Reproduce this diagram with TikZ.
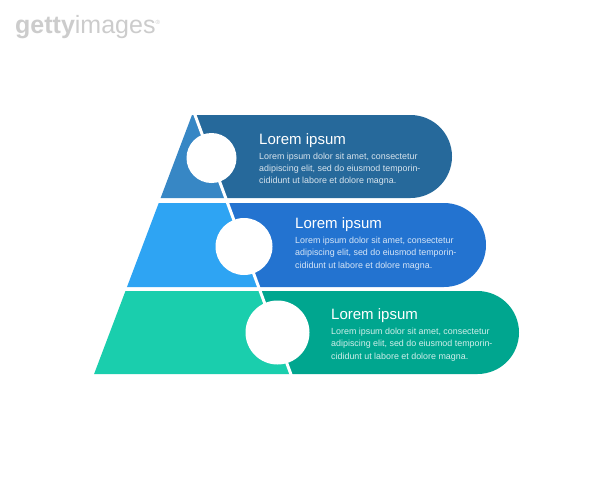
\documentclass[tikz,border=0pt]{standalone}
\usepackage{fontspec}
\setmainfont{Liberation Sans}
\definecolor{tonelight}{HTML}{3787C5}
\definecolor{onedark}{HTML}{26699B}
\definecolor{twolight}{HTML}{2EA4F3}
\definecolor{twodark}{HTML}{2373D0}
\definecolor{threelight}{HTML}{1ACEAD}
\definecolor{threedark}{HTML}{00A68F}
\tikzset{
  titletext/.style={anchor=base west, inner sep=0pt, text=white, font=\fontsize{15}{18}\selectfont},
  bodytext/.style={anchor=north west, inner sep=0pt, align=left, text=white!82!#1, font=\fontsize{8.9}{12.3}\selectfont},
  disc/.style={fill=white},
}
\begin{document}
\begin{tikzpicture}[x=1pt,y=-1pt,
  declare function={xl(\t)=192-0.378*(\t-115); xd(\t)=195+0.37*(\t-115);}]
\useasboundingbox (0,0) rectangle (612,490);
\fill[white] (0,0) rectangle (612,490);
% tier 1
\fill[tonelight] ({xl(115)},115) -- ({xd(115)},115) -- ({xd(198)},198) -- ({xl(198)},198) -- cycle;
\fill[onedark] ({xd(115)},115) -- (410.5,115) arc[start angle=-90,end angle=90,radius=41.5] -- ({xd(198)},198) -- cycle;
% tier 2
\fill[twolight] ({xl(203)},203) -- ({xd(203)},203) -- ({xd(287)},287) -- ({xl(287)},287) -- cycle;
\fill[twodark] ({xd(203)},203) -- (444,203) arc[start angle=-90,end angle=90,radius=42] -- ({xd(287)},287) -- cycle;
% tier 3
\fill[threelight] ({xl(291)},291) -- ({xd(291)},291) -- ({xd(374)},374) -- ({xl(374)},374) -- cycle;
\fill[threedark] ({xd(291)},291) -- (477.5,291) arc[start angle=-90,end angle=90,radius=41.5] -- ({xd(374)},374) -- cycle;
% divider
\draw[white, line width=3pt] ({xd(110)},110) -- ({xd(378)},378);
% discs
\fill[disc] (211.5,158) circle[radius=25];
\fill[disc] (244,246.5) circle[radius=28.5];
\fill[disc] (277.5,332.5) circle[radius=32];
% texts
\node[titletext] (h1) at (259,144) {Lorem ipsum};
\node[bodytext=onedark] (b1) at (259,152.5) {Lorem ipsum dolor sit amet, consectetur\\adipiscing elit, sed do eiusmod temporin-\\cididunt ut labore et dolore magna.};
\node[titletext] (h2) at (295,228.5) {Lorem ipsum};
\node[bodytext=twodark] (b2) at (295,237) {Lorem ipsum dolor sit amet, consectetur\\adipiscing elit, sed do eiusmod temporin-\\cididunt ut labore et dolore magna.};
\node[titletext] (h3) at (331,319.5) {Lorem ipsum};
\node[bodytext=threedark] (b3) at (331,328) {Lorem ipsum dolor sit amet, consectetur\\adipiscing elit, sed do eiusmod temporin-\\cididunt ut labore et dolore magna.};
% watermark
\node[anchor=base west, inner sep=0pt, text=gray!40, font=\fontsize{25}{25}\selectfont] (wm) at (15,33) {\textbf{getty}images\raisebox{9pt}{\fontsize{6}{6}\selectfont ®}};
\end{tikzpicture}
\end{document}
